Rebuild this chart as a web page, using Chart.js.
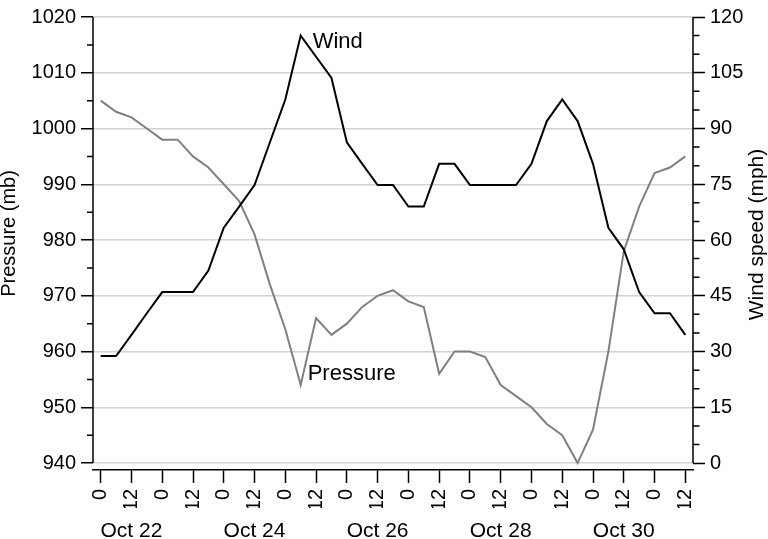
<!DOCTYPE html>
<html lang="en">
  <head>
    <meta charset="UTF-8" />
    <title>Pressure and wind speed</title>
    <script src="https://cdn.jsdelivr.net/npm/chart.js"></script>
    <style>
      body { margin: 0; background: #fff; }
    </style>
  </head>

  <body>
    <canvas id="myChart" width="768" height="539"></canvas>

    <script>
      // 6-hourly observations, Oct 22 00h .. Oct 31 12h
      const times = [
        'Oct 22 0', 'Oct 22 6', 'Oct 22 12', 'Oct 22 18',
        'Oct 23 0', 'Oct 23 6', 'Oct 23 12', 'Oct 23 18',
        'Oct 24 0', 'Oct 24 6', 'Oct 24 12', 'Oct 24 18',
        'Oct 25 0', 'Oct 25 6', 'Oct 25 12', 'Oct 25 18',
        'Oct 26 0', 'Oct 26 6', 'Oct 26 12', 'Oct 26 18',
        'Oct 27 0', 'Oct 27 6', 'Oct 27 12', 'Oct 27 18',
        'Oct 28 0', 'Oct 28 6', 'Oct 28 12', 'Oct 28 18',
        'Oct 29 0', 'Oct 29 6', 'Oct 29 12', 'Oct 29 18',
        'Oct 30 0', 'Oct 30 6', 'Oct 30 12', 'Oct 30 18',
        'Oct 31 0', 'Oct 31 6', 'Oct 31 12',
      ];
      const dateLabels = ['Oct 22', 'Oct 24', 'Oct 26', 'Oct 28', 'Oct 30'];

      // pressure in mb
      const pressure = [
        1005, 1003, 1002, 1000, 998, 998, 995, 993, 990, 987,
        981, 972, 964, 954, 966, 963, 965, 968, 970, 971,
        969, 968, 956, 960, 960, 959, 954, 952, 950, 947,
        945, 940, 946, 960, 978, 986, 992, 993, 995,
      ];
      // wind speed in mph
      const wind = [
        28.8, 28.8, 34.5, 40.3, 46, 46, 46, 51.8, 63.3, 69,
        74.8, 86.3, 97.8, 115, 109.3, 103.6, 86.3, 80.5, 74.8, 74.8,
        69, 69, 80.5, 80.5, 74.8, 74.8, 74.8, 74.8, 80.5, 92,
        97.8, 92, 80.5, 63.3, 57.5, 46, 40.3, 40.3, 34.5,
      ];

      const pressureTicks = [940, 950, 960, 970, 980, 990, 1000, 1010, 1020];
      const windTicks = [0, 15, 30, 45, 60, 75, 90, 105, 120];

      const FONT = 'Liberation Sans, Helvetica, Arial, sans-serif';

      // axis lines, minor ticks, axis titles and the two line labels
      const extras = {
        id: 'extras',
        afterDraw(chart) {
          const { ctx, chartArea: a, scales } = chart;
          const y = scales.y;
          const y1 = scales.y1;
          ctx.save();
          ctx.strokeStyle = '#000';
          ctx.lineWidth = 1.5;
          ctx.beginPath();
          ctx.moveTo(a.left, y.getPixelForValue(1020));
          ctx.lineTo(a.left, y.getPixelForValue(940));
          ctx.moveTo(a.right, y1.getPixelForValue(120));
          ctx.lineTo(a.right, y1.getPixelForValue(0));
          for (let v = 945; v < 1020; v += 10) {
            const py = y.getPixelForValue(v);
            ctx.moveTo(a.left - 6, py);
            ctx.lineTo(a.left, py);
          }
          for (let v = 5; v < 120; v += 5) {
            if (v % 15 === 0) continue;
            const py = y1.getPixelForValue(v);
            ctx.moveTo(a.right, py);
            ctx.lineTo(a.right + 6.5, py);
          }
          ctx.stroke();

          ctx.fillStyle = '#000';
          ctx.textAlign = 'center';
          ctx.textBaseline = 'middle';
          ctx.font = '20px ' + FONT;
          ctx.save();
          ctx.translate(9, 233.5);
          ctx.rotate(-Math.PI / 2);
          ctx.fillText('Pressure (mb)', 0, 0);
          ctx.restore();
          ctx.font = '21px ' + FONT;
          ctx.save();
          ctx.translate(757, 234.5);
          ctx.rotate(-Math.PI / 2);
          ctx.fillText('Wind speed (mph)', 0, 0);
          ctx.restore();

          const peak = wind.indexOf(Math.max(...wind));
          const wp = chart.getDatasetMeta(0).data[peak];
          const pp = chart.getDatasetMeta(1).data[peak];
          ctx.font = '22px ' + FONT;
          ctx.textAlign = 'left';
          ctx.textBaseline = 'alphabetic';
          ctx.fillText('Wind', wp.x + 12, wp.y + 12.5);
          ctx.fillText('Pressure', pp.x + 7, pp.y - 5.5);
          ctx.restore();
        },
      };

      document.addEventListener('DOMContentLoaded', function () {
        const ctx = document.getElementById('myChart').getContext('2d');

        new Chart(ctx, {
          type: 'line',
          plugins: [extras],
          data: {
            labels: times,
            datasets: [
              {
                label: 'Wind',
                data: wind,
                yAxisID: 'y1',
                borderColor: '#000',
                borderWidth: 2,
              },
              {
                label: 'Pressure',
                data: pressure,
                yAxisID: 'y',
                borderColor: '#808080',
                borderWidth: 2,
              },
            ],
          },
          options: {
            responsive: false,
            animation: false,
            events: [],
            layout: { padding: { top: 13, left: 0, right: 0, bottom: 0 } },
            elements: {
              point: { pointStyle: false, radius: 0 },
              line: { tension: 0 },
            },
            plugins: {
              legend: { display: false },
              tooltip: { enabled: false },
            },
            scales: {
              x: {
                type: 'category',
                position: 'bottom',
                weight: 0,
                offset: true,
                grid: {
                  offset: false,
                  drawOnChartArea: false,
                  tickLength: 13,
                  tickWidth: 1.5,
                  tickColor: (c) => (times[c.index].endsWith(' 0') || times[c.index].endsWith(' 12') ? '#000' : 'rgba(0,0,0,0)'),
                },
                border: { display: true, color: '#000', width: 1.5 },
                ticks: {
                  autoSkip: false,
                  minRotation: 90,
                  maxRotation: 90,
                  padding: 6,
                  color: '#000',
                  font: { family: FONT, size: 20 },
                  callback: (v, i) => {
                    const h = times[i].split(' ')[2];
                    return h === '0' || h === '12' ? h : '';
                  },
                },
                afterFit: (s) => { s.height = 38; },
              },
              xd: {
                type: 'category',
                position: 'bottom',
                weight: 1,
                offset: true,
                grid: { display: false, drawTicks: false },
                border: { display: false },
                ticks: {
                  autoSkip: false,
                  maxRotation: 0,
                  minRotation: 0,
                  padding: 11,
                  color: '#000',
                  font: { family: FONT, size: 21 },
                  callback: (v, i) => {
                    const parts = times[i].split(' ');
                    const d = parts[0] + ' ' + parts[1];
                    return parts[2] === '12' && dateLabels.includes(d) ? d : '';
                  },
                },
                afterFit: (s) => { s.height = 31; },
              },
              y: {
                type: 'linear',
                position: 'left',
                min: 940 - 7 / 5.625,
                max: 1020,
                afterBuildTicks: (s) => { s.ticks = pressureTicks.map((v) => ({ value: v })); },
                grid: {
                  color: '#d2d2d2',
                  lineWidth: 1.5,
                  tickLength: 12,
                  tickWidth: 1.5,
                  tickColor: '#000',
                },
                border: { display: false },
                ticks: {
                  padding: 5,
                  color: '#000',
                  font: { family: FONT, size: 20 },
                  callback: (v) => String(v),
                },
                afterFit: (s) => { s.width = 93; },
              },
              y1: {
                type: 'linear',
                position: 'right',
                min: -7 / 3.75,
                max: 120,
                afterBuildTicks: (s) => { s.ticks = windTicks.map((v) => ({ value: v })); },
                grid: {
                  drawOnChartArea: false,
                  tickLength: 12,
                  tickWidth: 1.5,
                  tickColor: '#000',
                },
                border: { display: false },
                ticks: {
                  padding: 5,
                  color: '#000',
                  font: { family: FONT, size: 20 },
                  callback: (v) => String(v),
                },
                afterFit: (s) => { s.width = 75; },
              },
            },
          },
        });
      });
    </script>
  </body>
</html>
